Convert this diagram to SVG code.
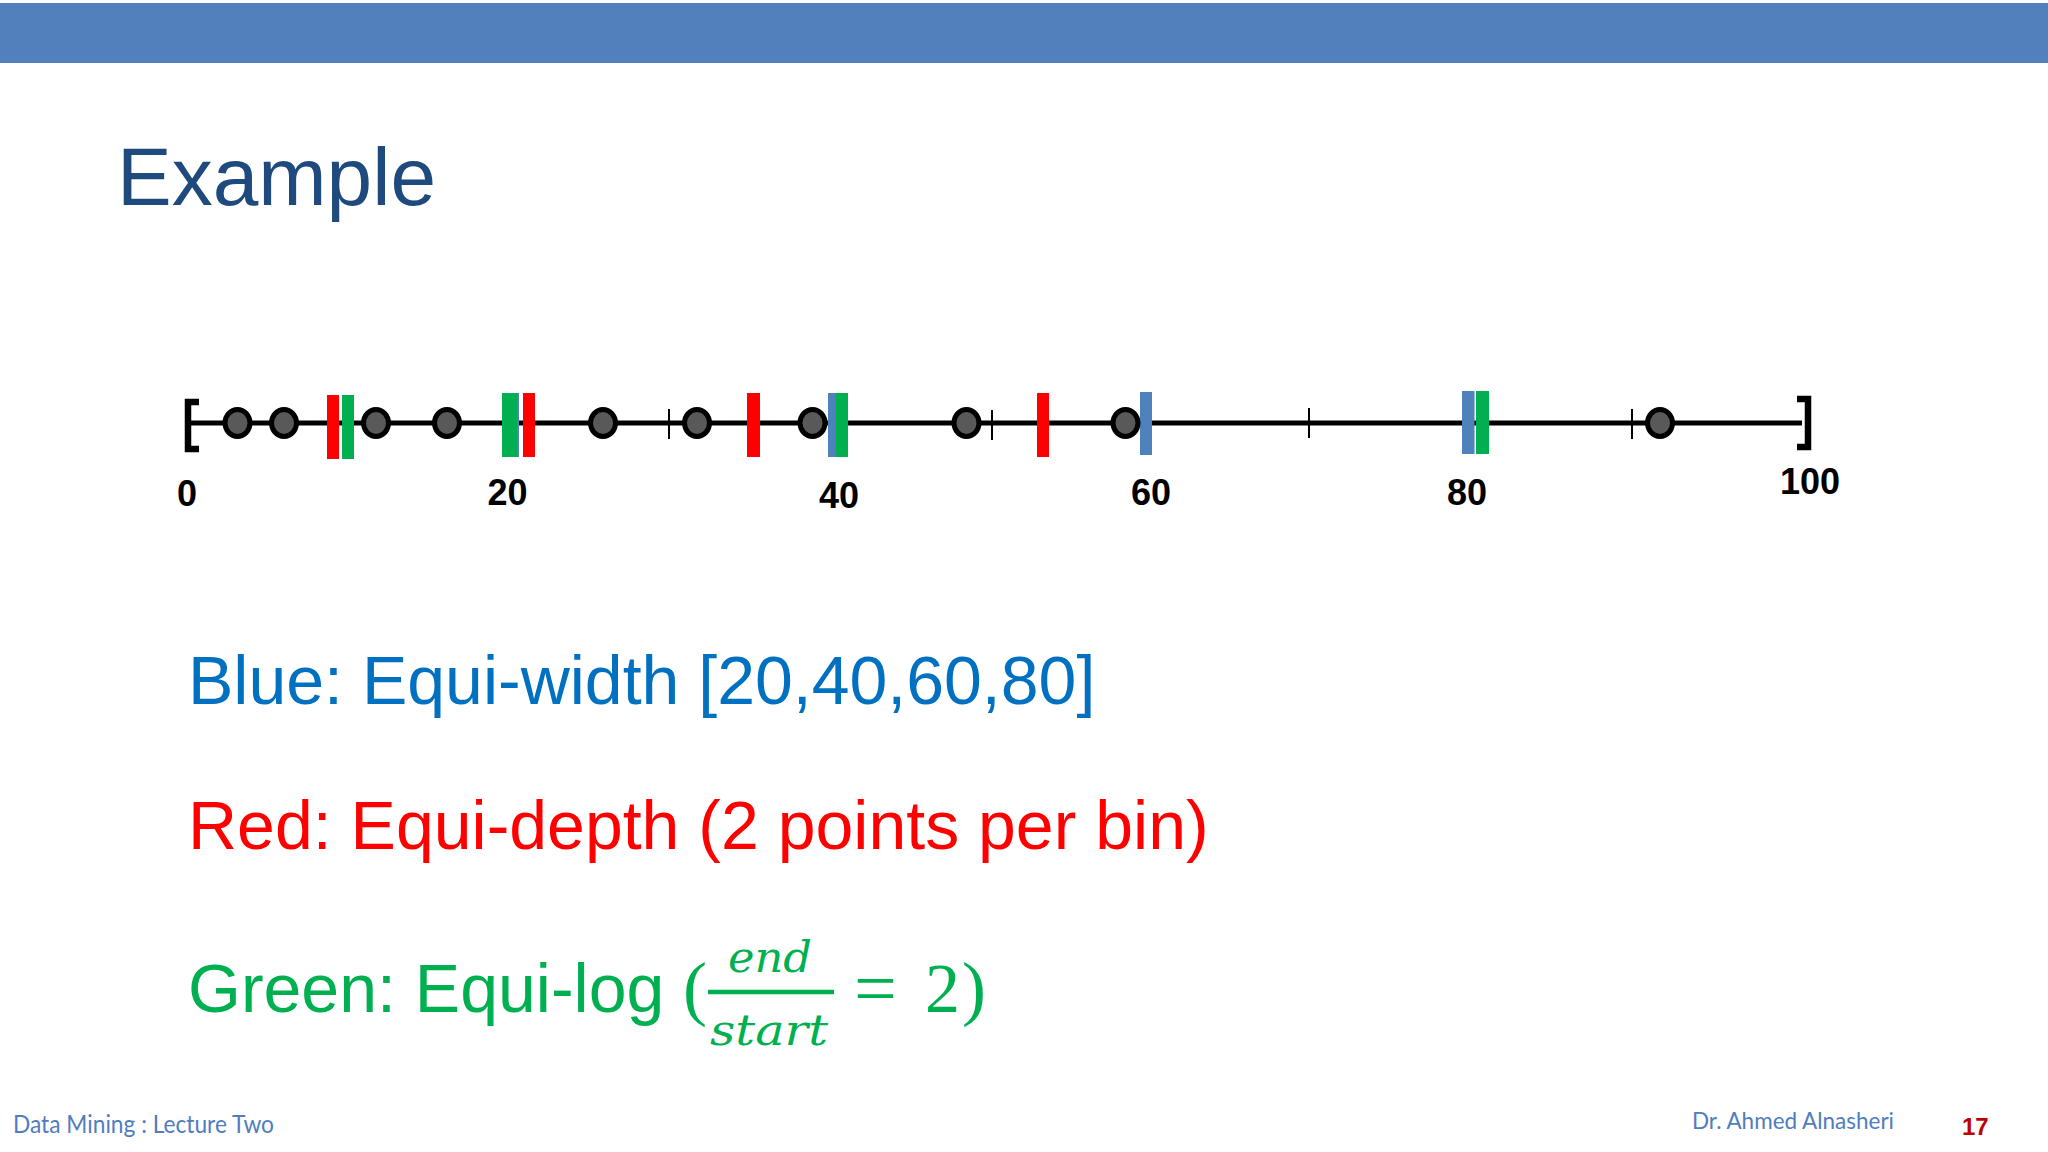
<svg xmlns="http://www.w3.org/2000/svg" width="2048" height="1152" viewBox="0 0 2048 1152">
  <style>
    .lbl { font-family: "Liberation Sans", Arial, sans-serif; font-weight: bold; font-size: 36px; fill: #000; text-anchor: middle; }
    .body { font-family: "Liberation Sans", Arial, sans-serif; font-size: 68px; }
    .math { font-family: "Liberation Serif", "Times New Roman", serif; fill: #00b050; }
    .mathi { font-family: "DejaVu Serif", "Liberation Serif", serif; font-style: italic; fill: #00b050; font-size: 43px; }
    .foot { font-family: Lato, "Open Sans", sans-serif; fill: #4f7dbf; }
    .pt { fill: #595959; stroke: #000; stroke-width: 5; }
    .tick { stroke: #000; stroke-width: 2; }
    .red { fill: #ff0000; }
    .green { fill: #00b050; }
    .blue { fill: #4f81bd; }
  </style>
  <rect x="0" y="0" width="2048" height="1152" fill="#ffffff"/>
  <rect x="0" y="3" width="2048" height="60" fill="#5180bd"/>
  <text x="117" y="205" font-family="Liberation Sans, Arial, sans-serif" font-size="82" fill="#1f4a7e">Example</text>

  <g id="connectors">
    <line x1="190" y1="423" x2="1802" y2="423" stroke="#000" stroke-width="5"/>
    <polyline points="199,402 188,402 188,449 199,449" fill="none" stroke="#000" stroke-width="6.5"/>
    <polyline points="1797,399 1808,399 1808,447 1797,447" fill="none" stroke="#000" stroke-width="6.5"/>
    <line class="tick" x1="669" y1="409" x2="669" y2="439"/>
    <line class="tick" x1="992" y1="410" x2="992" y2="440"/>
    <line class="tick" x1="1309" y1="408" x2="1309" y2="438"/>
    <line class="tick" x1="1632" y1="409" x2="1632" y2="439"/>
  </g>

  <g id="bars">
    <rect class="red" x="327" y="395" width="12" height="64"/>
    <rect class="green" x="342" y="395" width="12" height="64"/>
    <rect class="blue" x="506" y="393" width="13" height="64"/>
    <rect class="green" x="502" y="393" width="15" height="64"/>
    <rect class="red" x="523" y="393" width="12" height="64"/>
    <rect class="red" x="747" y="393" width="13" height="64"/>
    <rect class="blue" x="828" y="393" width="12" height="64"/>
    <rect class="green" x="836" y="393" width="12" height="64"/>
    <rect class="red" x="1037" y="393" width="12" height="64"/>
    <rect class="blue" x="1140" y="392" width="12" height="63"/>
    <rect class="blue" x="1462" y="391" width="12.5" height="63"/>
    <rect class="green" x="1476" y="391" width="13" height="63"/>
  </g>

  <g id="points">
    <ellipse class="pt" cx="237.5" cy="423" rx="12.5" ry="13.5"/>
    <ellipse class="pt" cx="284" cy="423" rx="12.5" ry="13.5"/>
    <ellipse class="pt" cx="376" cy="423" rx="12.5" ry="13.5"/>
    <ellipse class="pt" cx="447" cy="423" rx="12.5" ry="13.5"/>
    <ellipse class="pt" cx="603" cy="423" rx="12.5" ry="13.5"/>
    <ellipse class="pt" cx="697" cy="423" rx="12.5" ry="13.5"/>
    <ellipse class="pt" cx="812.5" cy="423" rx="12.5" ry="13.5"/>
    <ellipse class="pt" cx="966.5" cy="423" rx="12.5" ry="13.5"/>
    <ellipse class="pt" cx="1125.5" cy="423" rx="12.5" ry="13.5"/>
    <ellipse class="pt" cx="1660" cy="423" rx="12.5" ry="13.5"/>
  </g>

  <g id="labels">
    <text class="lbl" x="187" y="506">0</text>
    <text class="lbl" x="507.5" y="505">20</text>
    <text class="lbl" x="839" y="508">40</text>
    <text class="lbl" x="1151" y="505">60</text>
    <text class="lbl" x="1467" y="505">80</text>
    <text class="lbl" x="1810" y="494">100</text>
  </g>

  <g id="legend-blue">
    <text class="body" x="188" y="704" fill="#0070c0">Blue: Equi-width [20,40,60,80]</text>
  </g>
  <g id="legend-red">
    <text class="body" x="188" y="849" fill="#ff0000">Red: Equi-depth (2 points per bin)</text>
  </g>
  <g id="legend-green">
    <text class="body" x="188" y="1012" fill="#00b050">Green: Equi-log </text>
    <text class="math" x="683" y="1012" font-size="72">(</text>
    <text class="mathi" x="728" y="972" textLength="84" lengthAdjust="spacingAndGlyphs">end</text>
    <line x1="708" y1="992" x2="834" y2="992" stroke="#00b050" stroke-width="4.5"/>
    <text class="mathi" x="710" y="1045" textLength="118" lengthAdjust="spacingAndGlyphs">start</text>
    <text class="math" x="854" y="1014" font-size="76">=</text>
    <text class="math" x="925" y="1012" font-size="70">2</text>
    <text class="math" x="962" y="1012" font-size="72">)</text>
  </g>

  <g id="footer">
    <text class="foot" x="13" y="1133" font-size="25" textLength="261" lengthAdjust="spacingAndGlyphs">Data Mining : Lecture Two</text>
    <text class="foot" x="1692" y="1129" font-size="23" textLength="202" lengthAdjust="spacingAndGlyphs">Dr. Ahmed Alnasheri</text>
    <text x="1962" y="1135" font-family="Liberation Sans, Arial, sans-serif" font-weight="bold" font-size="24" fill="#c00000">17</text>
  </g>
</svg>
